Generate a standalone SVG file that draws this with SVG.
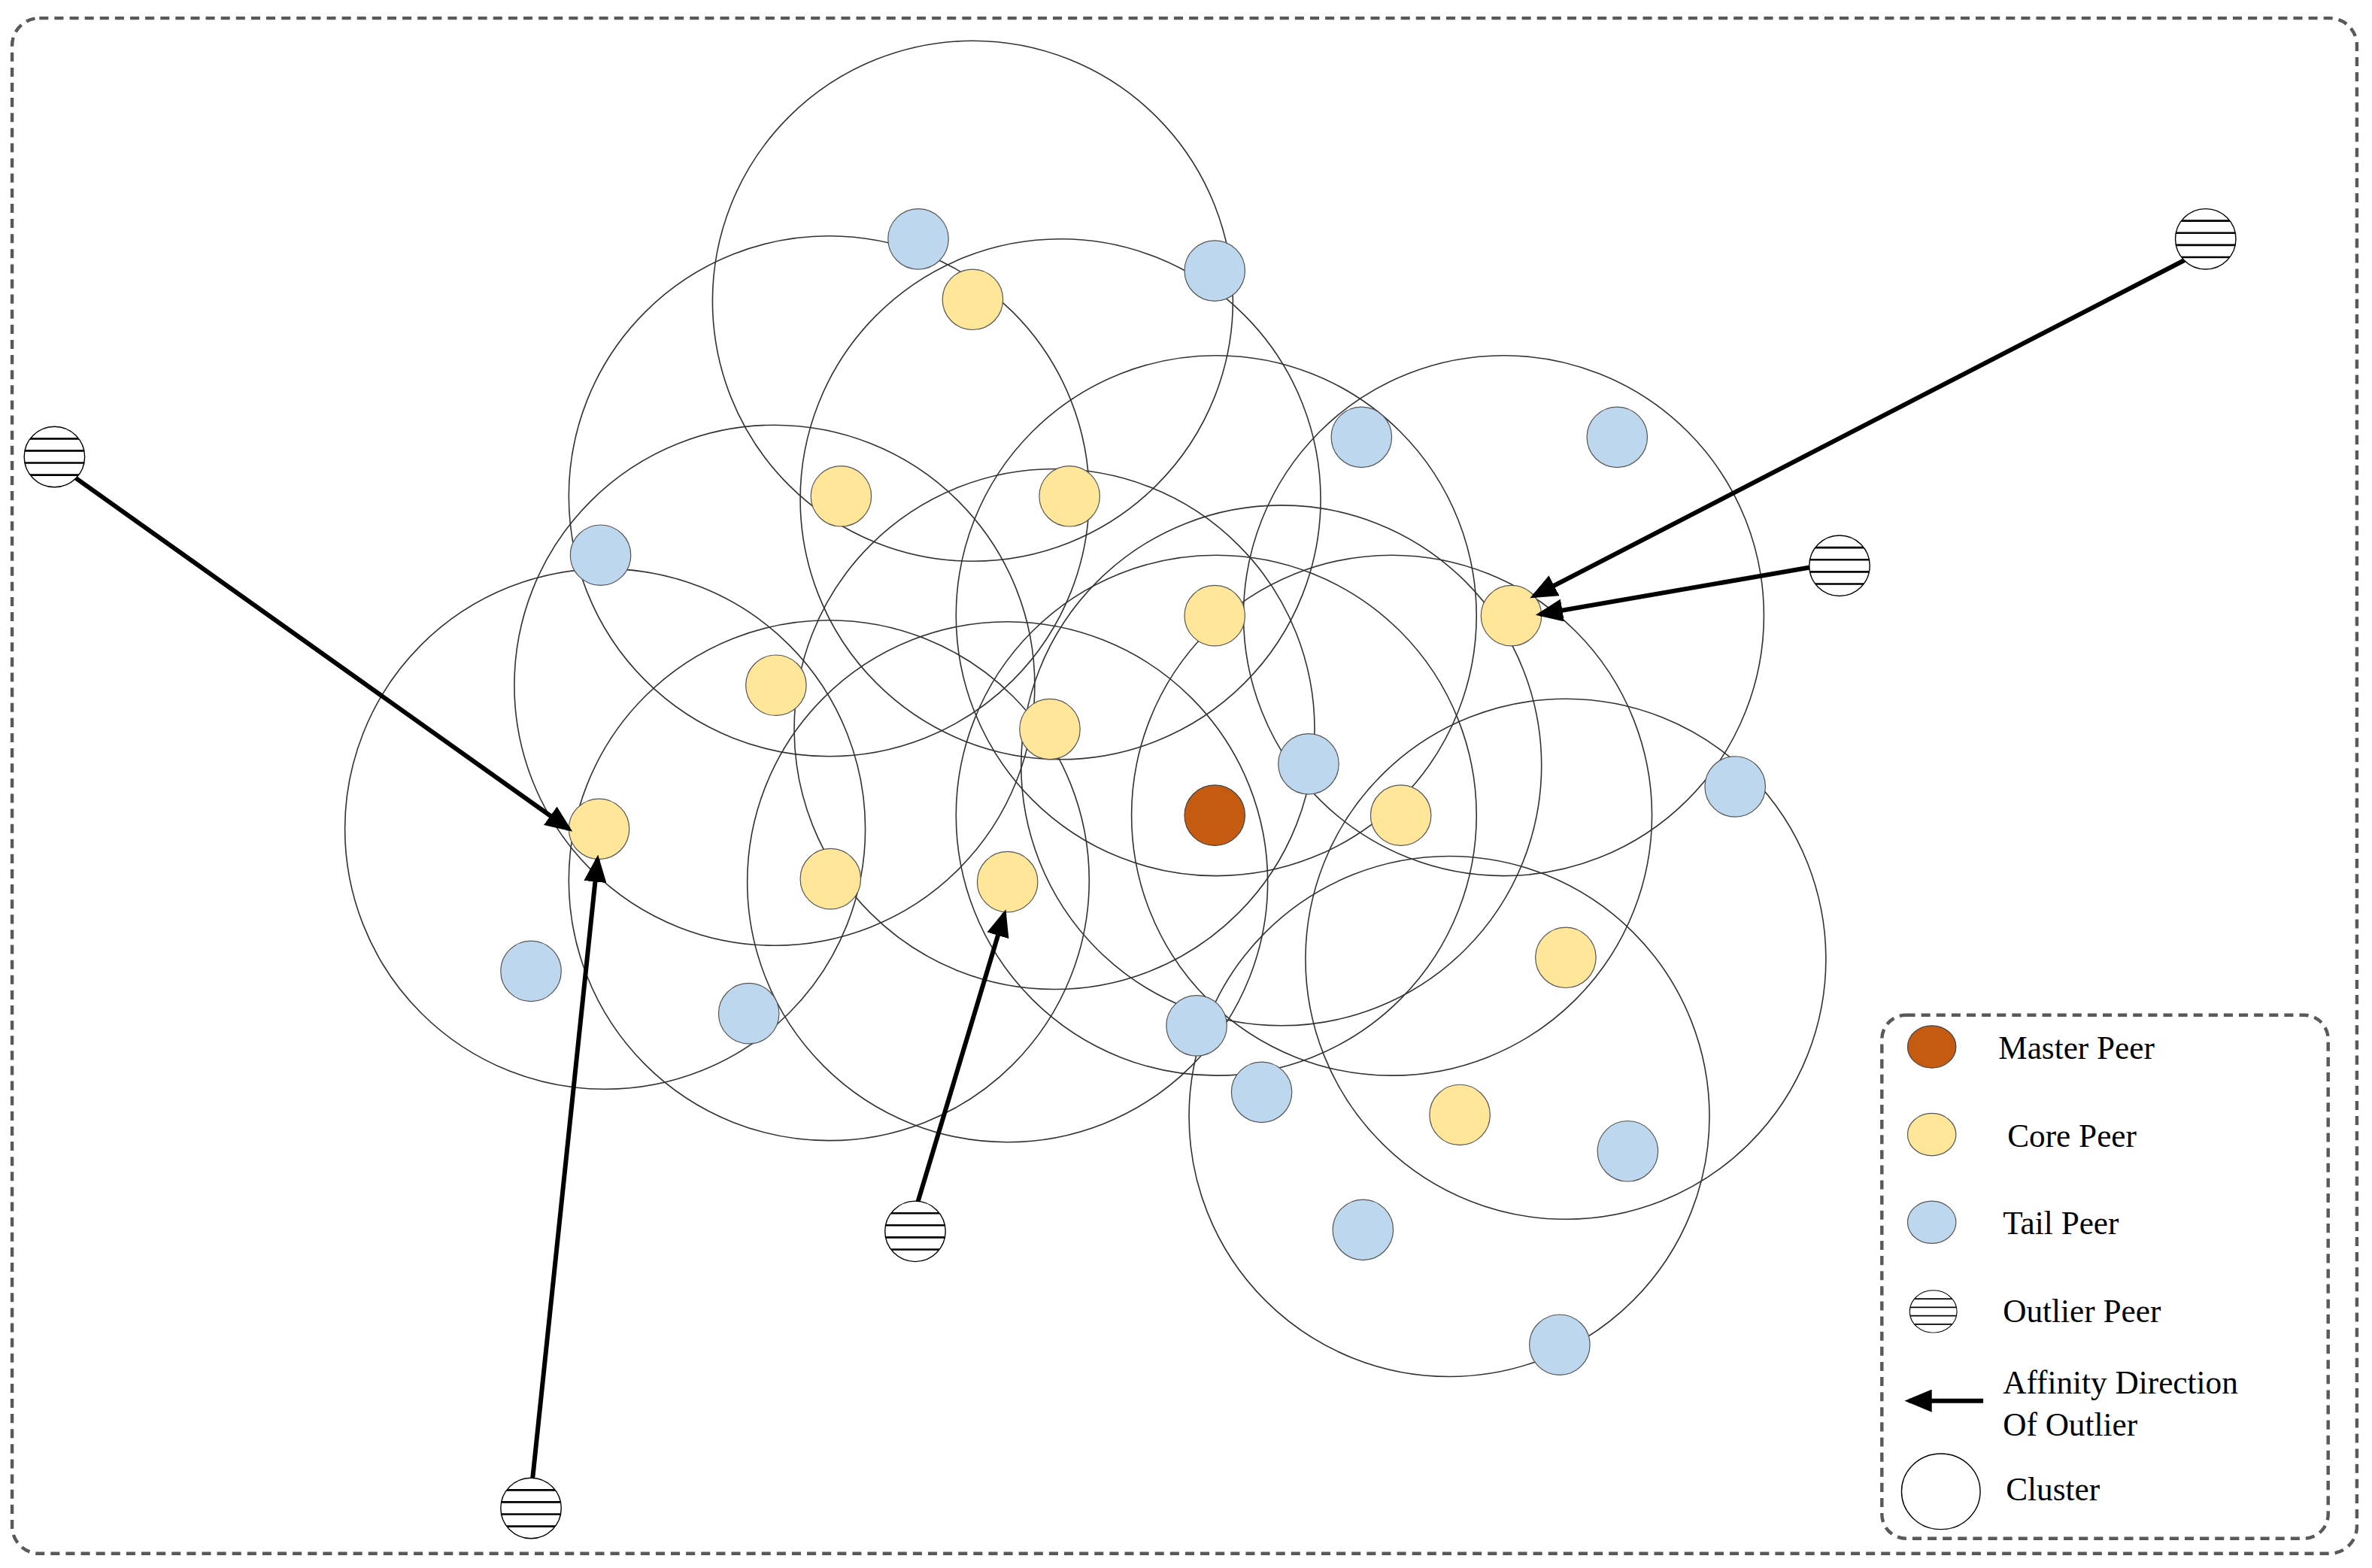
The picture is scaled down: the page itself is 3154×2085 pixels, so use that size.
<svg xmlns="http://www.w3.org/2000/svg" xmlns:xlink="http://www.w3.org/1999/xlink" width="3154" height="2085" viewBox="0 0 3154 2085">
<style>
.cl{fill:none;stroke:#333;stroke-width:0.8}
.tail{fill:#BDD7EE;stroke:#555;stroke-width:0.6}
.core{fill:#FFE699;stroke:#555;stroke-width:0.6}
.master{fill:#C55A11;stroke:#444;stroke-width:0.6}
.arr{stroke:#000;stroke-width:3;fill:none;marker-end:url(#ah)}
.box{fill:none;stroke:#595959;stroke-width:2.2;stroke-dasharray:6,4}
text{font-family:"Liberation Serif",serif;font-size:21.5px;fill:#000}
</style>
<defs>
<marker id="ah" markerWidth="6" markerHeight="5" refX="5" refY="2.5" orient="auto" markerUnits="strokeWidth"><path d="M0,0 L6,2.5 L0,5 z" fill="#000"/></marker>
<clipPath id="oc"><circle cx="0" cy="0" r="20"/></clipPath>
<g id="out"><circle r="20" fill="#fff"/><g clip-path="url(#oc)" stroke="#000" stroke-width="1.3"><line x1="-22" y1="-12" x2="22" y2="-12"/><line x1="-22" y1="-4" x2="22" y2="-4"/><line x1="-22" y1="4" x2="22" y2="4"/><line x1="-22" y1="12" x2="22" y2="12"/></g><circle r="20" fill="none" stroke="#000" stroke-width="0.7"/></g>
</defs>
<rect width="3154" height="2085" fill="#fff"/>
<g transform="scale(2.0115)">
<rect class="box" x="8" y="12" width="1550" height="1015" rx="18"/>
<g id="clusters">
<circle class="cl" cx="643" cy="199" r="172"/>
<circle class="cl" cx="548" cy="328" r="172"/>
<circle class="cl" cx="701" cy="330" r="172"/>
<circle class="cl" cx="804" cy="407" r="172"/>
<circle class="cl" cx="994" cy="407" r="172"/>
<circle class="cl" cx="512" cy="453" r="172"/>
<circle class="cl" cx="697" cy="482" r="172"/>
<circle class="cl" cx="847" cy="506" r="172"/>
<circle class="cl" cx="400" cy="548" r="172"/>
<circle class="cl" cx="548" cy="582" r="172"/>
<circle class="cl" cx="666" cy="583" r="172"/>
<circle class="cl" cx="804" cy="539" r="172"/>
<circle class="cl" cx="920" cy="539" r="172"/>
<circle class="cl" cx="1035" cy="634" r="172"/>
<circle class="cl" cx="958" cy="738" r="172"/>
</g>
<g id="tail-peers">
<circle class="tail" cx="607" cy="158" r="20"/><circle class="tail" cx="803" cy="179" r="20"/><circle class="tail" cx="900" cy="289" r="20"/><circle class="tail" cx="1069" cy="289" r="20"/><circle class="tail" cx="397" cy="367" r="20"/><circle class="tail" cx="865" cy="505" r="20"/><circle class="tail" cx="1147" cy="520" r="20"/><circle class="tail" cx="351" cy="642" r="20"/><circle class="tail" cx="495" cy="670" r="20"/><circle class="tail" cx="791" cy="678" r="20"/><circle class="tail" cx="834" cy="722" r="20"/><circle class="tail" cx="1076" cy="761" r="20"/><circle class="tail" cx="901" cy="813" r="20"/><circle class="tail" cx="1031" cy="889" r="20"/>
</g>
<g id="core-peers">
<circle class="core" cx="643" cy="198" r="20"/><circle class="core" cx="556" cy="328" r="20"/><circle class="core" cx="707" cy="328" r="20"/><circle class="core" cx="803" cy="407" r="20"/><circle class="core" cx="999" cy="407" r="20"/><circle class="core" cx="513" cy="453" r="20"/><circle class="core" cx="694" cy="482" r="20"/><circle class="core" cx="396" cy="548" r="20"/><circle class="core" cx="926" cy="539" r="20"/><circle class="core" cx="549" cy="581" r="20"/><circle class="core" cx="666" cy="583" r="20"/><circle class="core" cx="1035" cy="633" r="20"/><circle class="core" cx="965" cy="737" r="20"/>
</g>
<g id="master-peer"><circle class="master" cx="803" cy="539" r="20"/></g>
<g id="connectors">
<line class="arr" x1="50" y1="316" x2="376" y2="548"/>
<line class="arr" x1="1444" y1="172" x2="1014" y2="394"/>
<line class="arr" x1="1197" y1="375" x2="1018" y2="406"/>
<line class="arr" x1="606" y1="797" x2="664" y2="604"/>
<line class="arr" x1="352" y1="978" x2="395" y2="568"/>
</g>
<g id="outlier-peers">
<use xlink:href="#out" x="36" y="302"/><use xlink:href="#out" x="1458" y="158"/><use xlink:href="#out" x="1216" y="374"/><use xlink:href="#out" x="605" y="814"/><use xlink:href="#out" x="351" y="997"/>
</g>
<g id="legend">
<rect class="box" x="1244" y="671" width="295" height="346" rx="16"/>
<ellipse class="master" cx="1277" cy="692" rx="16" ry="14"/>
<ellipse class="core" cx="1277" cy="750" rx="16" ry="14"/>
<ellipse class="tail" cx="1277" cy="808" rx="16" ry="14"/>
<use xlink:href="#out" transform="translate(1278,867) scale(0.78,0.7)"/>
<text x="1321" y="700">Master Peer</text>
<text x="1327" y="758">Core Peer</text>
<text x="1324" y="816">Tail Peer</text>
<text x="1324" y="874">Outlier Peer</text>
<text x="1324" y="921">Affinity Direction</text>
<text x="1324" y="949">Of Outlier</text>
<text x="1326" y="992">Cluster</text>
<line class="arr" x1="1311" y1="926" x2="1262" y2="926"/>
<ellipse fill="none" stroke="#000" stroke-width="0.7" cx="1283" cy="986" rx="26" ry="25"/>
</g>
</g>
</svg>
